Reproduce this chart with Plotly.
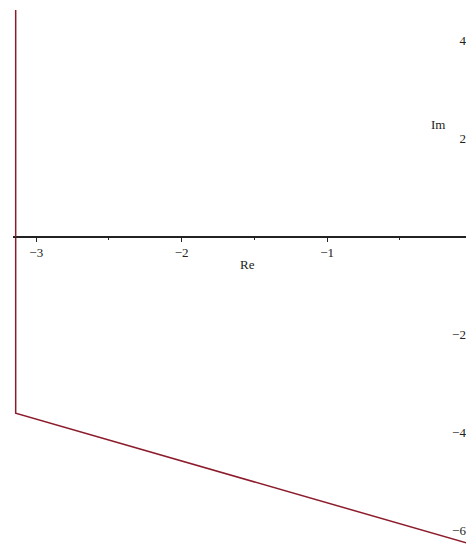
import plotly.graph_objects as go
import math

re_vals = [-math.pi, -math.pi, 0.0]
im_vals = [4.7, -3.6, -6.28]
x_ticks = [-3, -2, -1, 0]
y_ticks = [-6, -4, -2, 2, 4]

xr = [-3.16, 0.01]
yr = [-6.39, 4.63]
fig = go.Figure(go.Scatter(x=re_vals, y=im_vals, mode="lines",
                           line=dict(color="#8c1c2c", width=1.5), hoverinfo="skip"))
font = dict(family="Liberation Serif", size=13, color="#222")
fig.update_layout(
    width=474, height=544, margin=dict(l=5, r=8, t=2, b=2),
    plot_bgcolor="white", paper_bgcolor="white", showlegend=False,
    font=font,
    xaxis=dict(range=xr, anchor="free", position=(0 - yr[0]) / (yr[1] - yr[0]), automargin=False,
               showgrid=False, zeroline=True, zerolinecolor="#222", zerolinewidth=1,
               showline=True, linecolor="#222", linewidth=1,
               ticks="outside", ticklen=4, tickcolor="#222", tickvals=x_ticks,
               ticktext=["\u22123", "\u22122", "\u22121", "0"],
               minor=dict(ticks="outside", ticklen=2, dtick=0.5, tickcolor="#222")),
    yaxis=dict(range=yr, anchor="free", position=(0 - xr[0]) / (xr[1] - xr[0]), side="left",
               automargin=False,
               showgrid=False, zeroline=True, zerolinecolor="#222", zerolinewidth=1,
               showline=True, linecolor="#222", linewidth=1,
               ticks="outside", ticklen=4, tickcolor="#222", tickvals=y_ticks,
               ticktext=["\u22126", "\u22124", "\u22122", "2", "4"],
               minor=dict(ticks="outside", ticklen=2, dtick=1, tickcolor="#222")),
    annotations=[
        dict(x=-1.55, y=-0.57, text="Re", showarrow=False, font=font),
        dict(x=-0.24, y=2.29, text="Im", showarrow=False, font=font),
    ],
)
fig.write_html("out.html")
